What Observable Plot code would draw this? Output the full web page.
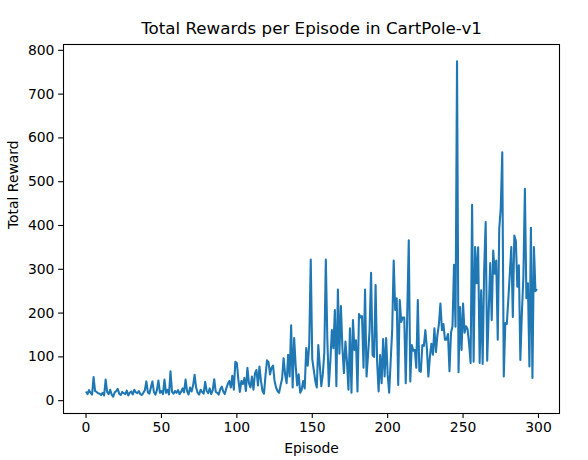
<!DOCTYPE html>
<html>
<head>
<meta charset="utf-8">
<script src="https://cdn.jsdelivr.net/npm/d3@7"></script>
<script src="https://cdn.jsdelivr.net/npm/@observablehq/plot@0.6"></script>
<style>
  html, body { margin: 0; padding: 0; background: #fff; }
  #chart svg { display: block; }
</style>
</head>
<body>
<div id="chart"></div>
<script>
const title = "Total Rewards per Episode in CartPole-v1";
const xLabel = "Episode";
const yLabel = "Total Reward";
const xTicks = [0, 50, 100, 150, 200, 250, 300];
const yTicks = [0, 100, 200, 300, 400, 500, 600, 700, 800];

// Total reward per episode (episodes 0..299)
const rewards = [
  21, 15, 24, 18, 14, 54, 22, 20, 17, 16,
  13, 18, 12, 48, 20, 15, 25, 14, 9, 19,
  22, 27, 16, 13, 20, 17, 15, 23, 12, 18,
  21, 14, 25, 19, 17, 22, 15, 13, 18, 24,
  44, 19, 16, 30, 44, 20, 14, 24, 46, 18,
  22, 15, 48, 18, 25, 14, 67, 20, 16, 22,
  18, 24, 15, 20, 28, 19, 48, 22, 14, 30,
  21, 35, 59, 30, 18, 14, 25, 20, 16, 43,
  22, 17, 28, 15, 24, 49, 20, 18, 14, 26,
  32, 21, 15, 28, 38, 45, 30, 57, 25, 89,
  86, 48, 20, 45, 38, 52, 22, 75, 40, 30,
  55, 25, 62, 70, 35, 78, 45, 22, 16, 58,
  92, 88, 60, 75, 80, 45, 30, 22, 18, 35,
  50, 97, 60, 40, 105, 55, 172, 30, 143, 80,
  35, 60, 18, 25, 45, 28, 120, 80, 130, 322,
  95, 70, 45, 30, 127, 80, 33, 60, 110, 322,
  140, 33, 90, 161, 120, 207, 33, 254, 107, 216,
  120, 63, 135, 90, 25, 165, 18, 184, 116, 138,
  21, 198, 190, 193, 75, 254, 55, 105, 160, 292,
  104, 100, 264, 90, 21, 104, 40, 141, 55,
  143, 60, 18, 90, 161, 320, 207, 234, 36, 230,
  180, 190, 190, 40, 200, 366, 44, 127, 114, 116,
  75, 230, 68, 66, 127, 125, 161, 120, 55, 100,
  130, 105, 165, 111, 150, 175, 222, 161, 175, 139,
  139, 152, 67, 155, 170, 310, 169, 775, 65, 214,
  116, 222, 155, 170, 163, 130, 86, 447, 89, 351,
  268, 350, 86, 252, 84, 300, 408, 91, 200, 314,
  184, 343, 290, 320, 139, 393, 440, 567, 55, 177,
  175, 230, 290, 351, 191, 377, 365, 260, 309, 93,
  200, 282, 484, 234, 268, 78, 395, 52, 351, 250, 255
];

const episodes = rewards.map((_, i) => i);
const data = episodes.map((e, i) => ({episode: e, reward: rewards[i]}));

const font = "DejaVu Sans, sans-serif";
const xMin = 0, xMax = episodes.length - 1;
const xPad = (xMax - xMin) * 0.05;
const yMin = d3.min(rewards), yMax = d3.max(rewards);
const yPad = (yMax - yMin) * 0.05;

const chart = Plot.plot({
  width: 588,
  height: 460,
  marginLeft: 63,
  marginRight: 29,
  marginTop: 44,
  marginBottom: 47,
  style: {fontFamily: font, fontSize: "13.9px", color: "#000", background: "#fff"},
  x: {domain: [xMin - xPad, xMax + xPad]},
  y: {domain: [yMin - yPad, yMax + yPad]},
  marks: [
    Plot.line(data, {x: "episode", y: "reward", stroke: "#1f77b4", strokeWidth: 2.08, strokeLinejoin: "round", strokeLinecap: "butt"}),
    Plot.frame({stroke: "#000", strokeWidth: 1.1}),
    Plot.axisX({ticks: xTicks, tickSize: 4.9, tickPadding: 4.2, label: null, fontSize: 13.9, stroke: "#000", strokeWidth: 1.1}),
    Plot.axisY({ticks: yTicks, tickSize: 4.9, tickPadding: 4.2, label: null, fontSize: 13.9, stroke: "#000", strokeWidth: 1.1}),
    Plot.text([xLabel], {text: d => d, frameAnchor: "bottom", lineAnchor: "middle", dy: 35, fontSize: 13.9, fill: "#000"}),
    Plot.text([yLabel], {text: d => d, frameAnchor: "left", lineAnchor: "middle", dx: -50, rotate: -90, fontSize: 13.9, fill: "#000"}),
    Plot.text([title], {text: d => d, frameAnchor: "top", lineAnchor: "middle", dy: -16, fontSize: 16.7, fill: "#000"})
  ]
});
document.getElementById("chart").appendChild(chart);
</script>
</body>
</html>
